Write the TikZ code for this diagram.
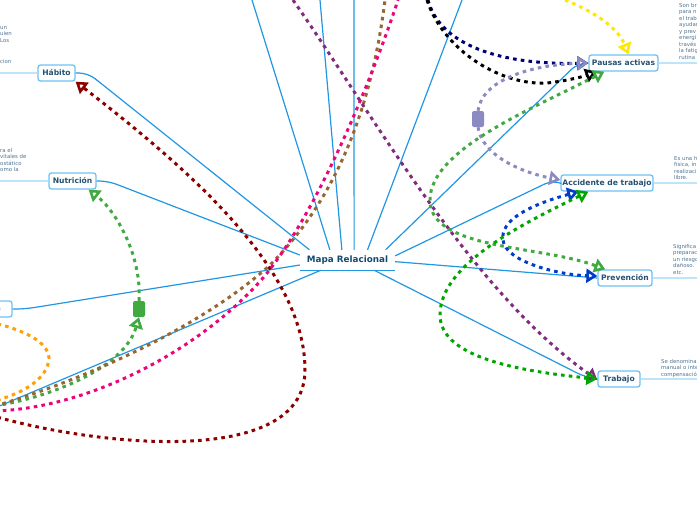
\documentclass[tikz,border=0pt]{standalone}
\usepackage{fontspec}
\setmainfont{DejaVu Sans}
\usetikzlibrary{arrows.meta}

\definecolor{ramal}{HTML}{2196E3}
\definecolor{ramalclaro}{HTML}{BFE3F8}
\definecolor{borde}{HTML}{6EC1F2}
\definecolor{titulo}{HTML}{154A70}
\definecolor{detalle}{HTML}{4F7392}

\tikzset{
  tema/.style={draw=borde, line width=1.3pt, fill=white, rounded corners=2.5pt, font=\fontsize{7.6}{9}\selectfont\bfseries, text=titulo!85!gray, inner sep=0pt},
  ramalazul/.style={draw=ramal, line width=1.2pt, rounded corners=9pt},
  ramalpalido/.style={draw=ramalclaro, line width=1.2pt},
  notas/.style={font=\fontsize{5.4}{6.5}\selectfont, text=detalle, align=left, anchor=north west, inner sep=0pt},
  enlace/.style={line width=3pt, dash pattern=on 3.6pt off 4.2pt, line cap=butt},
  punta/.style={-{Triangle[open, length=11pt, width=14pt, line width=2.6pt]}},
  puntas/.style={{Triangle[open, length=11pt, width=14pt, line width=2.6pt]}-{Triangle[open, length=11pt, width=14pt, line width=2.6pt]}},
  asa/.style={rounded corners=2pt, minimum width=12pt, minimum height=16pt, inner sep=0pt}
}

\begin{document}
\begin{tikzpicture}[x=1pt, y=-1pt]

    \useasboundingbox (0,0) rectangle (697,520);
    \clip (0,0) rectangle (697,520);

    % Nodes of the map
    \node[minimum width=95pt, minimum height=20pt, inner sep=0pt, font=\fontsize{8.8}{10}\selectfont\bfseries, text=titulo] (hub) at (347.5,260) {Mapa Relacional};
    \node[tema, minimum width=37pt, minimum height=16pt] (habito) at (56.5,73) {Hábito};
    \node[tema, minimum width=47pt, minimum height=16pt] (nutricion) at (72.5,181) {Nutrición};
    \node[tema, minimum width=30pt, minimum height=16pt] (salud) at (-3,309) {\hfill le};
    \node[tema, minimum width=69pt, minimum height=16pt] (pausas) at (623.5,63) {Pausas activas};
    \node[tema, minimum width=92pt, minimum height=16pt] (accidente) at (607,183) {Accidente de trabajo};
    \node[tema, minimum width=54pt, minimum height=16pt] (prevencion) at (625,278) {Prevención};
    \node[tema, minimum width=42pt, minimum height=16pt] (trabajo) at (619,379) {Trabajo};

    % Free ends outside of the page
    \coordinate (sup1) at (252,0);
    \coordinate (sup2) at (320,0);
    \coordinate (sup3) at (354,0);
    \coordinate (sup4) at (462,0);
    \coordinate (izq) at (-10,410);
    \coordinate (finhabito) at (0,73);
    \coordinate (finnutricion) at (0,181);
    \coordinate (finpausas) at (697,63);
    \coordinate (finaccidente) at (697,183);
    \coordinate (finprevencion) at (697,278);
    \coordinate (fintrabajo) at (697,379);

    % Pale lines to the notes
    \draw[ramalpalido] (habito.west) -- (finhabito);
    \draw[ramalpalido] (nutricion.west) -- (finnutricion);
    \draw[ramalpalido] (pausas.east) -- (finpausas);
    \draw[ramalpalido] (accidente.east) -- (finaccidente);
    \draw[ramalpalido] (prevencion.east) -- (finprevencion);
    \draw[ramalpalido] (trabajo.east) -- (fintrabajo);

    % Branches from the centre
    \draw[ramalazul] (hub.165) -- (88,73) -- (habito.east);
    \draw[ramalazul] (hub.174.8) -- (108,181) -- (nutricion.east);
    \draw[ramalazul] (hub.186) -- (25,309) -- (salud.east);
    \draw[ramalazul] (hub.201.4) -- (izq);
    \draw[ramalazul] (hub.150) -- (sup1);
    \draw[ramalazul] (hub.119) -- (sup2);
    \draw[ramalazul] (hub.57) -- (sup3);
    \draw[ramalazul] (hub.27) -- (sup4);
    \draw[ramalazul] (hub.15) -- (578,63) -- (pausas.west);
    \draw[ramalazul] (hub.5.4) -- (553,180) -- (accidente.west);
    \draw[ramalazul] (hub.-2.4) -- (prevencion.west);
    \draw[ramalazul] (hub.-21.4) -- (585,377) -- (trabajo.west);

    % Underline of the centre
    \draw[ramal, line width=1.2pt] (hub.south west) -- (hub.south east);

    % Notes, cut by the page
    \node[notas] (n1) at (0,26) {un\\uien\\Los};
    \node[notas] (n2) at (0,59) {cion};
    \node[notas] (n3) at (0,148) {ra el\\vitales de\\ostático\\omo la};
    \node[notas] (n4) at (679,3) {Son br\\para n\\el trab\\ayudar\\y prev\\energí\\través\\la fatig\\rutina};
    \node[notas] (n5) at (674,156) {Es una h\\física, in\\realizaci\\libre.};
    \node[notas] (n6) at (673,244) {Significa\\preparaci\\un riesgo\\dañoso.\\etc.};
    \node[notas] (n7) at (661,359) {Se denomina\\manual o inte\\compensació};

    % Handles of two links
    \node[asa, fill=green!55!black!75] (asaverde) at (139,309) {};
    \node[asa, fill=gray!70!blue!70] (asagris) at (478,119) {};

    % Dotted links
    \draw[enlace, draw=yellow!90!orange, punta] (565,0) .. controls (595,12) and (618,28) .. ([xshift=5pt]pausas.north);
    \draw[enlace, draw=orange!75!yellow] (-10,322) .. controls (25,330) and (48,342) .. (49,358) .. controls (48,380) and (20,395) .. (-10,402);
    \draw[enlace, draw=red!55!black, punta] (-10,415) .. controls (90,445) and (305,470) .. (305,370) .. controls (305,270) and (190,170) .. (habito.south east);
    \draw[enlace, draw=green!55!black!75, punta] (-5,406) .. controls (60,395) and (125,365) .. (asaverde.south);
    \draw[enlace, draw=green!55!black!75, punta] (asaverde.north) .. controls (142,255) and (115,210) .. ([xshift=-8pt]nutricion.south east);
    \draw[enlace, draw=brown!80!black] (-5,406) .. controls (100,375) and (210,320) .. (270,265) .. controls (330,205) and (370,120) .. (385,0);
    \draw[enlace, draw=magenta!85!red] (-5,411) .. controls (90,408) and (200,350) .. (263,278) .. controls (320,210) and (375,70) .. (398,0);
    \draw[enlace, draw=violet!65!gray, punta] (293,0) .. controls (370,110) and (470,290) .. ([yshift=-1pt]trabajo.west);
    \draw[enlace, draw=blue!45!black, punta] (428,0) .. controls (440,45) and (500,65) .. (pausas.west);
    \draw[enlace, draw=black, punta] (427,0) .. controls (445,55) and (510,90) .. (555,82) .. controls (570,80) and (585,76) .. ([xshift=8pt]pausas.south west);
    \draw[enlace, draw=gray!70!blue!70, punta] (asagris.north) .. controls (482,80) and (530,65) .. (pausas.west);
    \draw[enlace, draw=gray!70!blue!70, punta] (asagris.south) .. controls (482,155) and (520,172) .. ([yshift=3pt]accidente.west);
    \draw[enlace, draw=green!55!black!75, puntas] ([xshift=16pt]pausas.south west) .. controls (530,110) and (430,150) .. (430,200) .. controls (430,250) and (540,245) .. ([xshift=8pt]prevencion.north west);
    \draw[enlace, draw=blue!70!cyan!80!black, puntas] ([xshift=18pt]accidente.south west) .. controls (530,205) and (500,220) .. (503,240) .. controls (505,262) and (560,275) .. ([yshift=2pt]prevencion.west);
    \draw[enlace, draw=green!65!black, puntas] ([xshift=28pt]accidente.south west) .. controls (520,225) and (440,265) .. (440,315) .. controls (440,360) and (530,372) .. (trabajo.west);

\end{tikzpicture}
\end{document}
